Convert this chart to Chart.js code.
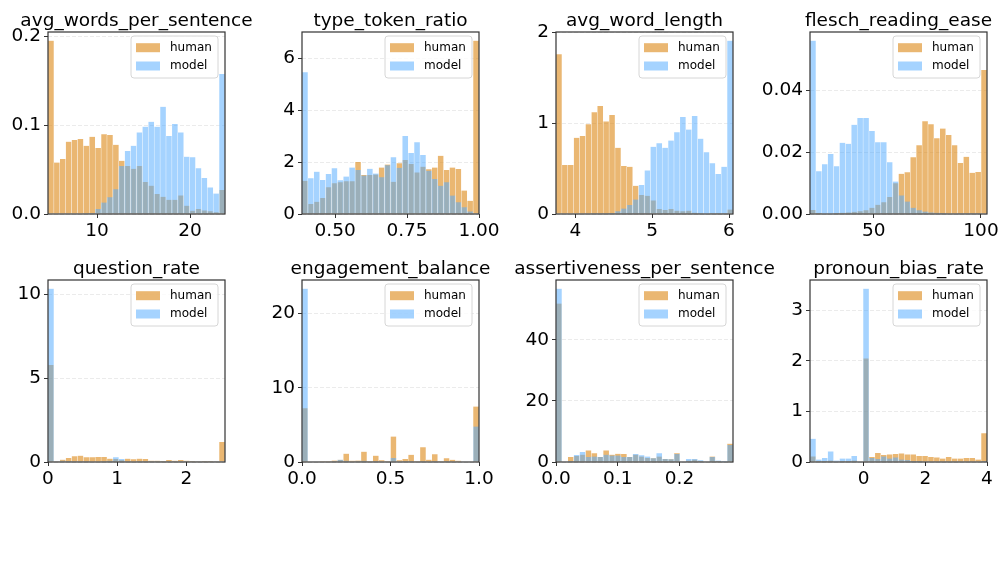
<!DOCTYPE html>
<html>
<head>
<meta charset="utf-8">
<script src="https://cdn.jsdelivr.net/npm/chart.js@4.4.0/dist/chart.umd.min.js"></script>
<style>
body { margin: 0; background: #fff; }
#wrap { position: relative; width: 1007px; height: 563px; overflow: hidden; }
canvas { position: absolute; }
</style>
</head>
<body>
<div id="wrap"></div>
<script>
// histogram heights (density), 30 bins per panel
const titles = ['avg_words_per_sentence', 'type_token_ratio', 'avg_word_length', 'flesch_reading_ease',
  'question_rate', 'engagement_balance', 'assertiveness_per_sentence', 'pronoun_bias_rate'];

const humanWords = [0.1955, 0.058, 0.062, 0.0816, 0.0835, 0.0846, 0.077, 0.087, 0.0744, 0.090, 0.089, 0.078, 0.060, 0.054, 0.051, 0.054, 0.036, 0.032, 0.0226, 0.0195, 0.016, 0.016, 0.021, 0.0094, 0.0038, 0.0056, 0.004, 0.003, 0.002, 0.027];
const modelWords = [0, 0, 0, 0, 0, 0.0005, 0.0008, 0.001, 0.0056, 0.013, 0.019, 0.028, 0.054, 0.071, 0.077, 0.092, 0.0985, 0.104, 0.0985, 0.121, 0.088, 0.1015, 0.092, 0.0647, 0.064, 0.0515, 0.0406, 0.030, 0.023, 0.158];

const humanTTR = [1.28, 0.38, 0.47, 0.62, 1.03, 1.18, 1.22, 1.26, 1.26, 2.0, 1.5, 1.5, 1.52, 1.79, 1.9, 1.24, 1.95, 2.08, 1.92, 1.6, 1.82, 1.72, 1.79, 2.24, 1.69, 1.79, 1.73, 0.9, 0.51, 6.67];
const modelTTR = [5.45, 1.38, 1.63, 1.31, 1.54, 1.76, 1.30, 1.44, 1.79, 1.69, 1.48, 1.74, 1.56, 1.41, 1.88, 2.18, 1.78, 3.0, 2.35, 2.76, 2.27, 1.66, 1.35, 1.09, 1.22, 0.71, 0.45, 0.26, 0.1, 0.03];

const humanWordLen = [1.76, 0.54, 0.54, 0.84, 0.86, 0.99, 1.12, 1.19, 1.02, 1.09, 0.73, 0.53, 0.52, 0.31, 0.21, 0.2, 0.15, 0.055, 0.044, 0.055, 0.037, 0.03, 0.037, 0.015, 0.007, 0.005, 0.003, 0.003, 0.002, 0.05];
const modelWordLen = [0, 0, 0, 0, 0, 0, 0.002, 0.004, 0.007, 0.012, 0.03, 0.06, 0.1, 0.16, 0.32, 0.48, 0.74, 0.78, 0.73, 0.81, 0.9, 1.07, 0.93, 1.08, 0.83, 0.68, 0.56, 0.44, 0.52, 1.91];

const humanFlesch = [0.0013, 0.0003, 0.0002, 0.0002, 0.0003, 0.0004, 0.0005, 0.0007, 0.0009, 0.0012, 0.002, 0.003, 0.0038, 0.0055, 0.0099, 0.013, 0.0135, 0.0183, 0.0222, 0.030, 0.029, 0.0245, 0.0276, 0.0255, 0.0222, 0.0165, 0.0185, 0.0133, 0.0136, 0.0465];
const modelFlesch = [0.056, 0.0138, 0.0161, 0.0194, 0.0154, 0.023, 0.0227, 0.0288, 0.031, 0.031, 0.0268, 0.0232, 0.0232, 0.0167, 0.0105, 0.006, 0.004, 0.002, 0.0012, 0.0008, 0.0005, 0.0004, 0.0003, 0.0002, 0.0002, 0.0001, 0.0001, 0.0001, 0.0001, 0.0002];

const humanQuestion = [5.78, 0.04, 0.14, 0.24, 0.34, 0.38, 0.28, 0.28, 0.3, 0.3, 0.2, 0.18, 0.1, 0.2, 0.16, 0.2, 0.18, 0.08, 0.08, 0.06, 0.12, 0.08, 0.12, 0.08, 0.06, 0.04, 0.06, 0.06, 0.04, 1.2];
const modelQuestion = [10.34, 0.02, 0.08, 0.06, 0.05, 0.04, 0.04, 0.03, 0.03, 0.05, 0.08, 0.28, 0.18, 0.05, 0.03, 0.02, 0.02, 0.01, 0.01, 0.01, 0.01, 0.01, 0.01, 0.01, 0.02, 0.01, 0.01, 0.01, 0.01, 0.05];

const humanEngage = [7.25, 0, 0, 0.1, 0.1, 0.2, 0.3, 1.12, 0.18, 0.2, 1.39, 0.1, 0.85, 0.22, 0.05, 3.44, 0.22, 0.4, 0.98, 0.1, 2.0, 0.31, 1.03, 0.05, 0.49, 0.3, 0.18, 0, 0, 7.47];
const modelEngage = [23.36, 0, 0, 0, 0, 0.05, 0.3, 0.18, 0, 0.05, 0.18, 0, 0.05, 0, 0, 0.54, 0, 0.05, 0.1, 0, 0.1, 0, 0.05, 0, 0.05, 0, 0, 0, 0, 4.79];

const humanAssert = [51.9, 0, 1.6, 2.0, 2.4, 3.8, 2.9, 1.6, 3.8, 2.4, 2.7, 2.6, 1.6, 2.4, 1.8, 1.3, 1.2, 1.8, 1.0, 0.9, 2.9, 0, 0.5, 0.8, 0.3, 0, 1.8, 0.3, 0.2, 6.0];
const modelAssert = [56.8, 0, 0.3, 2.3, 3.25, 1.6, 1.8, 1.6, 2.4, 2.1, 2.1, 1.6, 1.6, 2.6, 2.2, 1.8, 1.2, 2.9, 1.0, 0.9, 2.6, 0, 1.0, 1.0, 0.6, 0, 1.6, 0.5, 0.3, 5.6];

const humanPronoun = [0.11, 0.02, 0.02, 0.03, 0.01, 0.02, 0.02, 0.03, 0, 2.05, 0.1, 0.18, 0.14, 0.15, 0.16, 0.17, 0.15, 0.15, 0.12, 0.12, 0.1, 0.09, 0.07, 0.1, 0.07, 0.07, 0.08, 0.08, 0.05, 0.57];
const modelPronoun = [0.46, 0.05, 0.08, 0.21, 0.03, 0.07, 0.07, 0.12, 0, 3.43, 0.08, 0.06, 0.11, 0.07, 0.09, 0.05, 0.04, 0.02, 0.02, 0.01, 0.01, 0.01, 0.01, 0.01, 0.01, 0.01, 0.01, 0.01, 0.01, 0.02];

const humanAll = [humanWords, humanTTR, humanWordLen, humanFlesch, humanQuestion, humanEngage, humanAssert, humanPronoun];
const modelAll = [modelWords, modelTTR, modelWordLen, modelFlesch, modelQuestion, modelEngage, modelAssert, modelPronoun];

// x limits of each panel (first bin edge, last bin edge)
const xRanges = [[4.73, 23.76], [0.385, 1.0], [3.747, 6.052], [20.3, 102.8], [0, 2.56], [0, 1.0], [0, 0.2867], [-1.74, 4.0]];
const xTicks = [['10', '20'], ['0.50', '0.75', '1.00'], ['4', '5', '6'], ['50', '100'],
  ['0', '1', '2'], ['0.0', '0.5', '1.0'], ['0.0', '0.1', '0.2'], ['0', '2', '4']];
const yTicks = [['0.0', '0.1', '0.2'], ['0', '2', '4', '6'], ['0', '1', '2'], ['0.00', '0.02', '0.04'],
  ['0', '5', '10'], ['0', '10', '20'], ['0', '20', '40'], ['0', '1', '2', '3']];

const humanColor = 'rgba(220,135,20,0.6)';
const modelColor = 'rgba(75,167,255,0.5)';

Chart.defaults.font.family = "'DejaVu Sans', sans-serif";
Chart.defaults.color = '#000';

const colLeft = [48, 302, 556, 810];
const rowTop = [32, 280];
const plotW = 177, plotH = 182;
const padL = 62, padR = 62, titleH = 27, axisH = 40;

// title, frame round the plot and the legend inside the top right corner
const framePlugin = {
  id: 'frameAndLegend',
  afterDatasetsDraw(chart) {
    const a = chart.chartArea;
    const ctx = chart.ctx;
    ctx.save();
    ctx.strokeStyle = '#333';
    ctx.lineWidth = 1.2;
    ctx.strokeRect(a.left, a.top, a.right - a.left, a.bottom - a.top);

    ctx.fillStyle = '#000';
    ctx.font = "18.5px 'DejaVu Sans'";
    ctx.textAlign = 'center';
    ctx.textBaseline = 'alphabetic';
    ctx.fillText(chart.options.plugins.panelTitle, (a.left + a.right) / 2, a.top - 5.8);

    const w = 87, h = 42;
    const x = a.right - 7 - w, y = a.top + 4;
    ctx.beginPath();
    ctx.roundRect(x, y, w, h, 3);
    ctx.fillStyle = 'rgba(255,255,255,0.8)';
    ctx.fill();
    ctx.strokeStyle = '#d6d6d6';
    ctx.lineWidth = 1;
    ctx.stroke();

    ctx.textAlign = 'left';
    chart.data.datasets.forEach((ds, k) => {
      const cy = y + 11.7 + k * 18.3;
      ctx.fillStyle = ds.backgroundColor;
      ctx.fillRect(x + 5, cy - 4.5, 24, 9);
      ctx.fillStyle = '#000';
      ctx.font = "12px 'DejaVu Sans'";
      ctx.textBaseline = 'middle';
      ctx.fillText(ds.label, x + 39, cy);
    });
    ctx.restore();
  }
};

const wrap = document.getElementById('wrap');

for (let i = 0; i < 8; i++) {
  let human = humanAll[i];
  let model = modelAll[i];
  let [x0, x1] = xRanges[i];
  let binW = (x1 - x0) / human.length;

  let humanPts = human.map((v, k) => ({ x: x0 + (k + 0.5) * binW, y: v }));
  let modelPts = model.map((v, k) => ({ x: x0 + (k + 0.5) * binW, y: v }));
  let yMax = Math.max(...human, ...model) * 1.05;

  let canvas = document.createElement('canvas');
  canvas.width = padL + plotW + padR;
  canvas.height = titleH + plotH + axisH;
  canvas.style.left = (colLeft[i % 4] - padL) + 'px';
  canvas.style.top = (rowTop[Math.floor(i / 4)] - titleH) + 'px';
  wrap.appendChild(canvas);

  let xLabels = xTicks[i];
  let yLabels = yTicks[i];

  new Chart(canvas, {
    type: 'bar',
    data: {
      datasets: [
        { label: 'human', data: humanPts, backgroundColor: humanColor, order: 2,
          borderColor: 'rgba(255,255,255,0.45)', borderWidth: { left: 0.5, right: 0.5, top: 0, bottom: 0 } },
        { label: 'model', data: modelPts, backgroundColor: modelColor, order: 1,
          borderColor: 'rgba(255,255,255,0.45)', borderWidth: { left: 0.5, right: 0.5, top: 0, bottom: 0 } }
      ]
    },
    options: {
      responsive: false,
      animation: false,
      events: [],
      datasets: { bar: { grouped: false, barPercentage: 1, categoryPercentage: 1 } },
      layout: { padding: { left: 0, right: padR, top: titleH, bottom: 0 } },
      plugins: {
        legend: { display: false },
        tooltip: { enabled: false },
        title: { display: false },
        panelTitle: titles[i]
      },
      scales: {
        x: {
          type: 'linear',
          min: x0,
          max: x1,
          offset: false,
          afterFit: (s) => { s.height = axisH; },
          afterBuildTicks: (s) => { s.ticks = xLabels.map(t => ({ value: parseFloat(t) })); },
          ticks: {
            autoSkip: false, maxRotation: 0, padding: 2,
            font: { size: 18.5 },
            callback: (v, idx) => xLabels[idx]
          },
          grid: { display: true, drawOnChartArea: false, drawTicks: true, tickLength: 4, tickColor: '#333', tickWidth: 1, offset: false },
          border: { display: false }
        },
        y: {
          min: 0,
          max: yMax,
          afterFit: (s) => { s.width = padL; },
          afterBuildTicks: (s) => { s.ticks = yLabels.map(t => ({ value: parseFloat(t) })); },
          ticks: {
            autoSkip: false, padding: 3,
            font: { size: 18.5 },
            callback: (v, idx) => yLabels[idx]
          },
          grid: { color: 'rgba(0,0,0,0.08)', lineWidth: 1, tickLength: 4, tickColor: '#333', tickWidth: 1, tickBorderDash: [] },
          border: { display: false, dash: [4, 2] }
        }
      }
    },
    plugins: [framePlugin]
  });
}
</script>
</body>
</html>
